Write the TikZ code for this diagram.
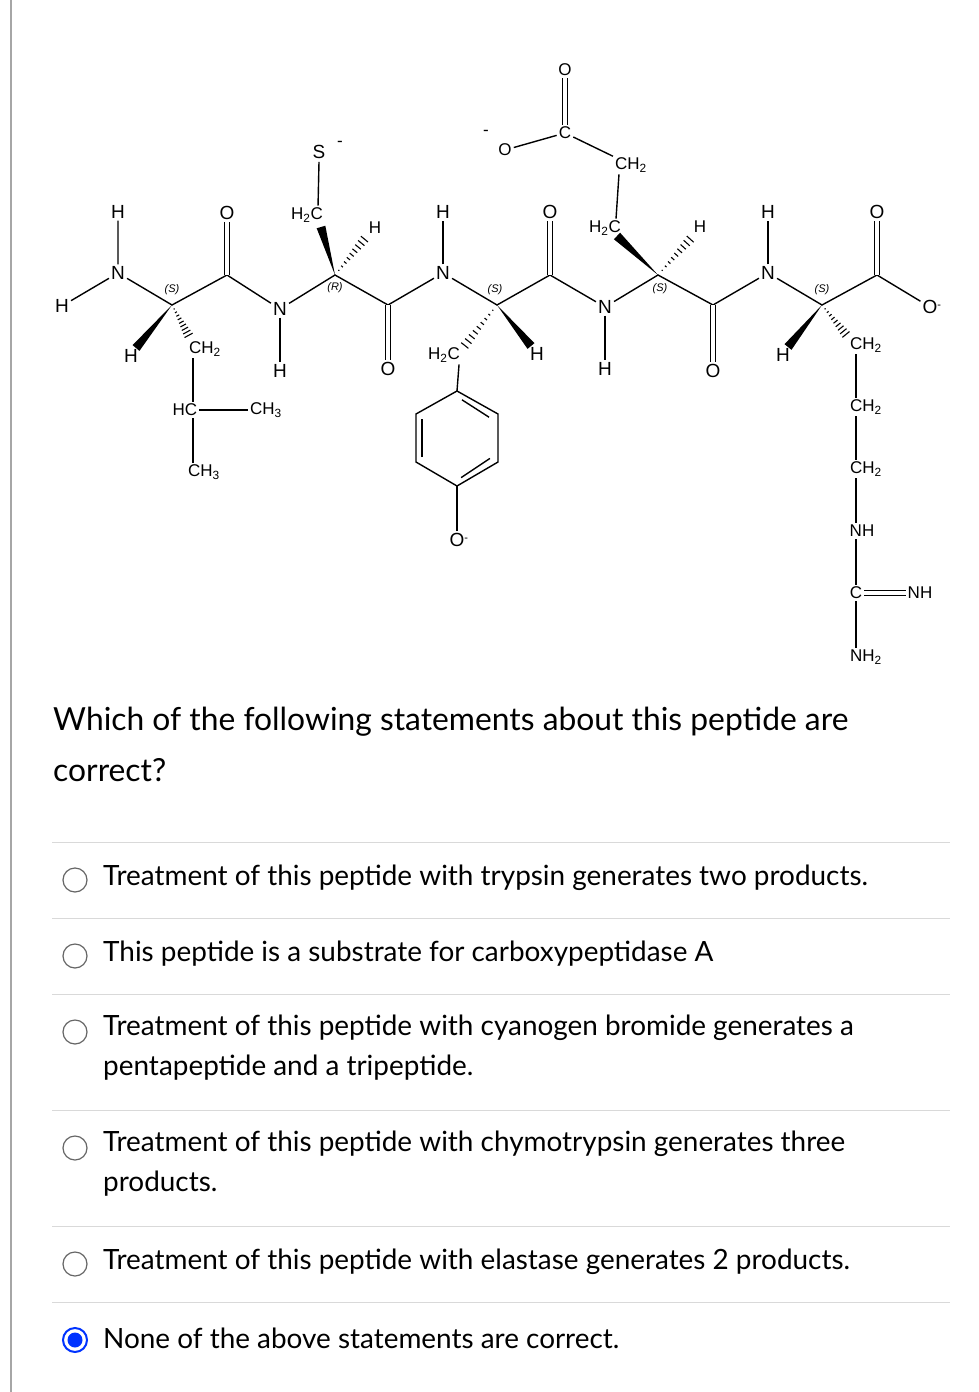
\documentclass[tikz,border=0pt]{standalone}
\usepackage{fontspec}
\setmainfont{Lato}
\newfontfamily\chem{Liberation Sans}
\usetikzlibrary{calc}
\tikzset{
 atm/.style={font=\chem\fontsize{19}{19}\selectfont, inner sep=2pt},
 grp/.style={font=\chem\fontsize{17}{17}\selectfont, inner sep=2pt},
 st/.style={font=\chem\itshape\fontsize{11}{11}\selectfont, inner sep=0pt},
 bd/.style={line width=1.4pt},
 dbd/.style={double, double distance=3.5pt, line width=1.2pt},
 sep/.style={draw=black!15, line width=1pt},
 qt/.style={font=\fontsize{31.8}{34}\selectfont, anchor=west, inner sep=0pt},
 opt/.style={font=\fontsize{27.9}{40}\selectfont, anchor=west, inner sep=0pt, align=left},
 radio/.style={circle, draw=black!60, line width=1.2pt, minimum size=24pt, inner sep=0pt}
}
\newcommand\wedgeb[2]{\fill ($(#1)$) -- ($(#2)!4.5pt!90:(#1)$) -- ($(#2)!4.5pt!-90:(#1)$) -- cycle;}
\newcommand\hashb[2]{\foreach \f [evaluate=\f as \w using 5*\f] in {0.12,0.22,...,0.95}{\draw[line width=1.1pt] ($(#1)!\f!(#2)!\w pt!90:(#2)$) -- ($(#1)!\f!(#2)!\w pt!-90:(#2)$);}}
\begin{document}
\begin{tikzpicture}[x=1pt,y=-1pt]
\useasboundingbox (0,0) rectangle (978,1392);
\fill[white] (0,0) rectangle (978,1392);
\draw[black!35, line width=2pt] (11,0) -- (11,1392);
% backbone coordinates
\coordinate (ca1) at (172,305);
\coordinate (c1) at (227,275);
\coordinate (ca2) at (335,275);
\coordinate (c2) at (388,305);
\coordinate (ca3) at (497,305);
\coordinate (c3) at (550,275);
\coordinate (ca4) at (658,275);
\coordinate (c4) at (713,305);
\coordinate (ca5) at (822,305);
\coordinate (c5) at (877,275);
% atoms
\node[atm] (h0) at (62,306) {H};
\node[atm] (n1) at (118,273) {N};
\node[atm] (hn1) at (118,212) {H};
\node[atm] (o1) at (227,213) {O};
\node[atm] (n2) at (280,309) {N};
\node[atm] (hn2) at (280,371) {H};
\node[atm] (o2) at (388,369) {O};
\node[atm] (n3) at (443,273) {N};
\node[atm] (hn3) at (443,212) {H};
\node[atm] (o3) at (550,212) {O};
\node[atm] (n4) at (605,307) {N};
\node[atm] (hn4) at (605,369) {H};
\node[atm] (o4) at (713,371) {O};
\node[atm] (n5) at (768,273) {N};
\node[atm] (hn5) at (768,212) {H};
\node[atm] (o5) at (877,212) {O};
\node[atm] (o6) at (930,307) {O\rlap{\raisebox{5pt}{\fontsize{11}{11}\selectfont -}}};
% stereo labels
\node[st] at (172,290) {(S)};
\node[st] at (335,288) {(R)};
\node[st] at (495,290) {(S)};
\node[st] at (660,289) {(S)};
\node[st] at (822,290) {(S)};
% backbone bonds
\draw[bd] (h0) -- (n1) -- (hn1);
\draw[bd] (n1) -- (ca1) -- (c1) -- (n2) -- (ca2) -- (c2) -- (n3) -- (ca3) -- (c3) -- (n4) -- (ca4) -- (c4) -- (n5) -- (ca5) -- (c5) -- (o6);
\draw[bd] (n2) -- (hn2); \draw[bd] (n3) -- (hn3); \draw[bd] (n4) -- (hn4); \draw[bd] (n5) -- (hn5);
\draw[dbd] (c1) -- (o1); \draw[dbd] (c2) -- (o2); \draw[dbd] (c3) -- (o3); \draw[dbd] (c4) -- (o4); \draw[dbd] (c5) -- (o5);
% Leu
\node[atm] (h1) at (131,356) {H};
\node[grp] (lch2) at (205,349) {CH\textsubscript{2}};
\node[grp] (lhc) at (185,410) {HC};
\node[grp] (lme1) at (266,410) {CH\textsubscript{3}};
\node[grp] (lme2) at (204,472) {CH\textsubscript{3}};
\coordinate (h1t) at (136,348);
\wedgeb{ca1}{h1t}
\coordinate (lch2t) at (190,338);
\hashb{ca1}{lch2t}
\coordinate (lx) at (193,0);
\draw[bd] (lch2.south -| lx) -- (lhc.north -| lx);
\draw[bd] (lhc.south -| lx) -- (lme2.north -| lx);
\draw[bd] (lhc) -- (lme1);
% Cys
\node[grp] (ch2c) at (307,215) {H\textsubscript{2}C};
\node[atm] (s) at (319,152) {S};
\node[grp] at (340,144) {-};
\coordinate (ch2ct) at (321,227);
\wedgeb{ca2}{ch2ct}
\draw[bd] ([xshift=-7pt]ch2c.north east) -- ([yshift=-1pt]s.south);
\node[grp] (h2) at (375,228) {H};
\coordinate (h2t) at (367,236);
\hashb{ca2}{h2t}
% Tyr
\node[grp] (ych2) at (444,355) {H\textsubscript{2}C};
\coordinate (ych2t) at (462,349);
\hashb{ca3}{ych2t}
\node[atm] (h3) at (537,354) {H};
\coordinate (h3t) at (531,346);
\wedgeb{ca3}{h3t}
\coordinate (r1) at (457,391); \coordinate (r2) at (498,414); \coordinate (r3) at (498,462);
\coordinate (r4) at (457,486); \coordinate (r5) at (416,462); \coordinate (r6) at (416,414);
\draw[bd] ([xshift=-3pt]ych2.south east) -- (r1);
\draw[bd] (r1) -- (r2) -- (r3) -- (r4) -- (r5) -- (r6) -- cycle;
\draw[bd] ($(r1)!0.12!(r2)+(0,6)$) -- ($(r2)!0.12!(r1)+(-4,6)$);
\draw[bd] ($(r3)!0.1!(r4)+(-4,-6)$) -- ($(r4)!0.1!(r3)+(0,-6)$);
\draw[bd] ($(r5)!0.1!(r6)+(6,0)$) -- ($(r6)!0.1!(r5)+(6,0)$);
\node[atm] (yo) at (457,540) {O\rlap{\raisebox{5pt}{\fontsize{11}{11}\selectfont -}}};
\draw[bd] (r4) -- (yo);
% Glu
\node[grp] (ech2a) at (605,228) {H\textsubscript{2}C};
\coordinate (ech2at) at (617,236);
\wedgeb{ca4}{ech2at}
\node[grp] (ech2b) at (631,165) {CH\textsubscript{2}};
\node[grp] (ec) at (565,133) {C};
\node[grp] (eo1) at (565,70) {O};
\node[grp] (eo2) at (505,150) {O};
\node[grp] at (486,133) {-};
\draw[bd] ([xshift=-7pt]ech2a.north east) -- ([xshift=6pt]ech2b.south west);
\draw[bd] (ech2b) -- (ec) -- (eo2);
\draw[dbd] (ec) -- (eo1);
\node[grp] (h4) at (700,227) {H};
\coordinate (h4t) at (693,236);
\hashb{ca4}{h4t}
% Arg
\node[atm] (h5) at (783,355) {H};
\coordinate (h5t) at (788,347);
\wedgeb{ca5}{h5t}
\node[grp] (ach1) at (866,345) {CH\textsubscript{2}};
\coordinate (ach1t) at (848,337);
\hashb{ca5}{ach1t}
\node[grp] (ach2) at (866,407) {CH\textsubscript{2}};
\node[grp] (ach3) at (866,469) {CH\textsubscript{2}};
\node[grp] (anh) at (862,531) {NH};
\node[grp] (ac) at (856,593) {C};
\node[grp] (anh2) at (920,593) {NH};
\node[grp] (anh3) at (866,657) {NH\textsubscript{2}};
\draw[bd] (ach1.south -| ac) -- (ach2.north -| ac);
\draw[bd] (ach2.south -| ac) -- (ach3.north -| ac);
\draw[bd] (ach3.south -| ac) -- (anh.north -| ac);
\draw[bd] (anh.south -| ac) -- (ac);
\draw[bd] (ac) -- (anh3.north -| ac);
\draw[dbd] (ac) -- (anh2);
% question
\node[qt] (q1) at (53,722) {Which of the following statements about this peptide are};
\node[qt] (q2) at (53,770) {correct?};
\foreach \y in {842,918,994,1110,1226,1302} \draw[sep] (52,\y) -- (950,\y);
\node[radio] (r1b) at (75,880) {}; \node[opt] at (103,878) {Treatment of this peptide with trypsin generates two products.};
\node[radio] (r2b) at (75,956) {}; \node[opt] at (103,954) {This peptide is a substrate for carboxypeptidase A};
\node[radio] (r3b) at (75,1032) {}; \node[opt, anchor=north west] at (103,1015) {Treatment of this peptide with cyanogen bromide generates a\\pentapeptide and a tripeptide.};
\node[radio] (r4b) at (75,1148) {}; \node[opt, anchor=north west] at (103,1131) {Treatment of this peptide with chymotrypsin generates three\\products.};
\node[radio] (r5b) at (75,1264) {}; \node[opt] at (103,1262) {Treatment of this peptide with elastase generates 2 products.};
\node[radio, draw=blue!80!cyan, line width=2pt] (r6b) at (75,1340) {};
\fill[blue!80!cyan] (r6b) circle (7.5pt);
\node[opt] at (103,1338) {None of the above statements are correct.};
\end{tikzpicture}
\end{document}
